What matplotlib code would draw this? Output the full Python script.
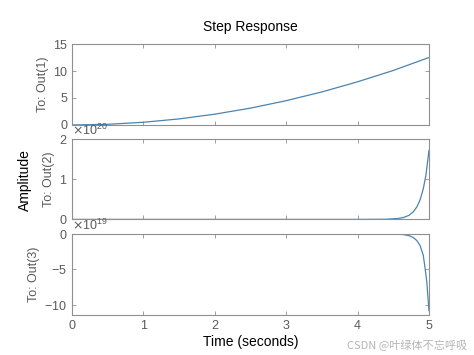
import numpy as np
import matplotlib.pyplot as plt
from matplotlib.ticker import ScalarFormatter

# values
t1 = [0, 0.5, 1, 1.5, 2, 2.5, 3, 3.5, 4, 4.5, 5]
y1 = [0, 0.12, 0.5, 1.12, 2.0, 3.12, 4.5, 6.12, 8.0, 10.1, 12.5]

t2 = [0, 4.0, 4.4, 4.56, 4.64, 4.72, 4.78, 4.83, 4.874, 4.92, 4.958, 5.0]
y2 = [0, 0, 0.004, 0.021, 0.046, 0.10, 0.19, 0.31, 0.48, 0.76, 1.11, 1.72]   # x 1e20

t3 = [0, 4.0, 4.4, 4.56, 4.64, 4.72, 4.78, 4.83, 4.874, 4.92, 4.944, 4.97, 5.0]
y3 = [0, 0, -0.005, -0.035, -0.09, -0.24, -0.5, -0.93, -1.6, -3.0, -4.7, -6.8, -10.8]  # x 1e19

xticks = [0, 1, 2, 3, 4, 5]
out_labels = ['To: Out(1)', 'To: Out(2)', 'To: Out(3)']

line_col = '#4a84b0'
gray = '#5a5a5a'
box = '#8f8f8f'

plt.rcParams['font.family'] = ['Liberation Sans', 'DejaVu Sans']
plt.rcParams['axes.unicode_minus'] = False

fig = plt.figure(figsize=(4.74, 3.55), dpi=100)
left, width = 0.152, 0.753
ax1 = fig.add_axes([left, 0.648, width, 0.228])
ax2 = fig.add_axes([left, 0.382, width, 0.226])
ax3 = fig.add_axes([left, 0.113, width, 0.228])

ax1.plot(t1, y1, color=line_col, lw=0.9)
ax2.plot(t2, np.array(y2) * 1e20, color=line_col, lw=0.9)
ax3.plot(t3, np.array(y3) * 1e19, color=line_col, lw=0.9)

ax1.set_ylim(0, 15)
ax1.set_yticks([0, 5, 10, 15])
ax2.set_ylim(0, 2e20)
ax2.set_yticks([0, 1e20, 2e20])
ax3.set_ylim(-11.4e19, 0)
ax3.set_yticks([-10e19, -5e19, 0])

for ax, lab in zip([ax1, ax2, ax3], out_labels):
    ax.set_xlim(0, 5)
    ax.set_xticks(xticks)
    ax.tick_params(direction='in', length=3, width=0.6, colors=box,
                   labelcolor=gray, labelsize=9, top=True, right=True)
    for s in ax.spines.values():
        s.set_color(box)
        s.set_linewidth(0.8)
    ax.set_ylabel(lab, color=gray, fontsize=9, labelpad=3)
    if ax is not ax3:
        ax.tick_params(labelbottom=False)

for ax, p in [(ax2, 20), (ax3, 19)]:
    fmt = ScalarFormatter(useMathText=True)
    fmt.set_powerlimits((p, p))
    ax.yaxis.set_major_formatter(fmt)
    ax.yaxis.get_offset_text().set_color(gray)
    ax.yaxis.get_offset_text().set_fontsize(9)

fig.text(0.528, 0.924, 'Step Response', ha='center', va='center', fontsize=10)
fig.text(0.053, 0.493, 'Amplitude', rotation=90, ha='center', va='center', fontsize=10)
fig.text(0.528, 0.037, 'Time (seconds)', ha='center', va='center', fontsize=10)
fig.text(0.985, 0.028, 'CSDN @叶绿体不忘呼吸', ha='right', va='center', fontsize=8,
         color='#b4b4b4', family=['Noto Sans CJK SC', 'DejaVu Sans'])

fig.savefig('out.png', dpi=100)
